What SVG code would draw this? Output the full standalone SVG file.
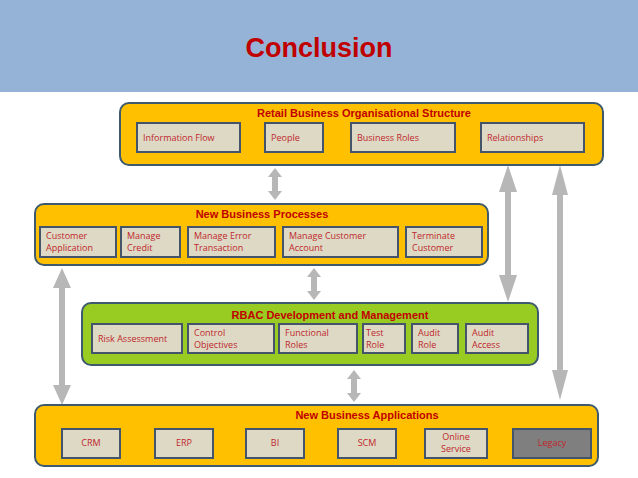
<svg xmlns="http://www.w3.org/2000/svg" width="638" height="478" viewBox="0 0 638 478">
<style>
.c{stroke:#3d5a6e;stroke-width:2}
.b{fill:#ddd9c4;stroke:#44546a;stroke-width:2}
.t{font-family:"Open Sans","Liberation Sans",sans-serif;font-size:9px;fill:#c0262d}
.h{font-family:"Liberation Sans",Arial,sans-serif;font-weight:bold;font-size:11px;fill:#c00000;text-anchor:middle}
.a{fill:#b7b7b7}
</style>
<defs>
<path id="dbl" d="M-8,0 L0,-12 L8,0 L3,0 L3,0 Z"/>
</defs>
<rect x="0" y="0" width="638" height="92" fill="#95b3d7"/>
<text x="319" y="57" text-anchor="middle" font-family="Liberation Sans,Arial,sans-serif" font-weight="bold" font-size="27" fill="#c00000">Conclusion</text>
<g id="connectors">
<path class="a" d="M275,168 L282,177 L278,177 L278,191 L282,191 L275,200 L268,191 L272,191 L272,177 L268,177 Z"/>
<path class="a" d="M314,268 L321,277 L317,277 L317,291 L321,291 L314,300 L307,291 L311,291 L311,277 L307,277 Z"/>
<path class="a" d="M354,370 L361,379 L357,379 L357,393 L361,393 L354,402 L347,393 L351,393 L351,379 L347,379 Z"/>
<path class="a" d="M62,268 L71,288 L65,288 L65,385 L71,385 L62,405 L53,385 L59,385 L59,288 L53,288 Z"/>
<path class="a" d="M508,165 L517,192 L511,192 L511,275 L517,275 L508,302 L499,275 L505,275 L505,192 L499,192 Z"/>
<path class="a" d="M560,165 L568,195 L563,195 L563,370 L568,370 L560,400 L552,370 L557,370 L557,195 L552,195 Z"/>
</g>
<g id="retail">
<rect class="c" x="120" y="103" width="483" height="62" rx="9" fill="#ffc000"/>
<text class="h" x="364" y="117">Retail Business Organisational Structure</text>
<rect class="b" x="137" y="123" width="103" height="29"/><text class="t" x="143" y="141">Information Flow</text>
<rect class="b" x="265" y="123" width="58" height="29"/><text class="t" x="271" y="141">People</text>
<rect class="b" x="351" y="123" width="104" height="29"/><text class="t" x="357" y="141">Business Roles</text>
<rect class="b" x="481" y="123" width="103" height="29"/><text class="t" x="487" y="141">Relationships</text>
</g>
<g id="processes">
<rect class="c" x="35" y="204" width="453" height="61" rx="9" fill="#ffc000"/>
<text class="h" x="262" y="218">New Business Processes</text>
<rect class="b" x="40" y="227" width="76" height="30"/><text class="t" x="46" y="239">Customer</text><text class="t" x="46" y="251">Application</text>
<rect class="b" x="121" y="227" width="59" height="30"/><text class="t" x="127" y="239">Manage</text><text class="t" x="127" y="251">Credit</text>
<rect class="b" x="188" y="227" width="87" height="30"/><text class="t" x="194" y="239">Manage Error</text><text class="t" x="194" y="251">Transaction</text>
<rect class="b" x="283" y="227" width="115" height="30"/><text class="t" x="289" y="239">Manage Customer</text><text class="t" x="289" y="251">Account</text>
<rect class="b" x="406" y="227" width="76" height="30"/><text class="t" x="412" y="239">Terminate</text><text class="t" x="412" y="251">Customer</text>
</g>
<g id="rbac">
<rect class="c" x="82" y="303" width="456" height="62" rx="9" fill="#99cc22"/>
<text class="h" x="330" y="319">RBAC Development and Management</text>
<rect class="b" x="92" y="324" width="90" height="29"/><text class="t" x="98" y="342">Risk Assessment</text>
<rect class="b" x="188" y="324" width="86" height="29"/><text class="t" x="194" y="336">Control</text><text class="t" x="194" y="348">Objectives</text>
<rect class="b" x="279" y="324" width="78" height="29"/><text class="t" x="285" y="336">Functional</text><text class="t" x="285" y="348">Roles</text>
<rect class="b" x="363" y="324" width="42" height="29"/><text class="t" x="366" y="336">Test</text><text class="t" x="366" y="348">Role</text>
<rect class="b" x="412" y="324" width="46" height="29"/><text class="t" x="418" y="336">Audit</text><text class="t" x="418" y="348">Role</text>
<rect class="b" x="466" y="324" width="62" height="29"/><text class="t" x="472" y="336">Audit</text><text class="t" x="472" y="348">Access</text>
</g>
<g id="apps">
<rect class="c" x="35" y="405" width="563" height="61" rx="9" fill="#ffc000"/>
<text class="h" x="367" y="419">New Business Applications</text>
<rect class="b" x="62" y="429" width="58" height="29"/><text class="t" x="91" y="446" text-anchor="middle">CRM</text>
<rect class="b" x="155" y="429" width="58" height="29"/><text class="t" x="184" y="446" text-anchor="middle">ERP</text>
<rect class="b" x="246" y="429" width="58" height="29"/><text class="t" x="275" y="446" text-anchor="middle">BI</text>
<rect class="b" x="338" y="429" width="58" height="29"/><text class="t" x="367" y="446" text-anchor="middle">SCM</text>
<rect class="b" x="425" y="429" width="62" height="29"/><text class="t" x="456" y="440" text-anchor="middle">Online</text><text class="t" x="456" y="452" text-anchor="middle">Service</text>
<rect x="513" y="429" width="78" height="29" fill="#7f7f7f" stroke="#44546a" stroke-width="2"/><text class="t" x="552" y="446" text-anchor="middle">Legacy</text>
</g>
</svg>
